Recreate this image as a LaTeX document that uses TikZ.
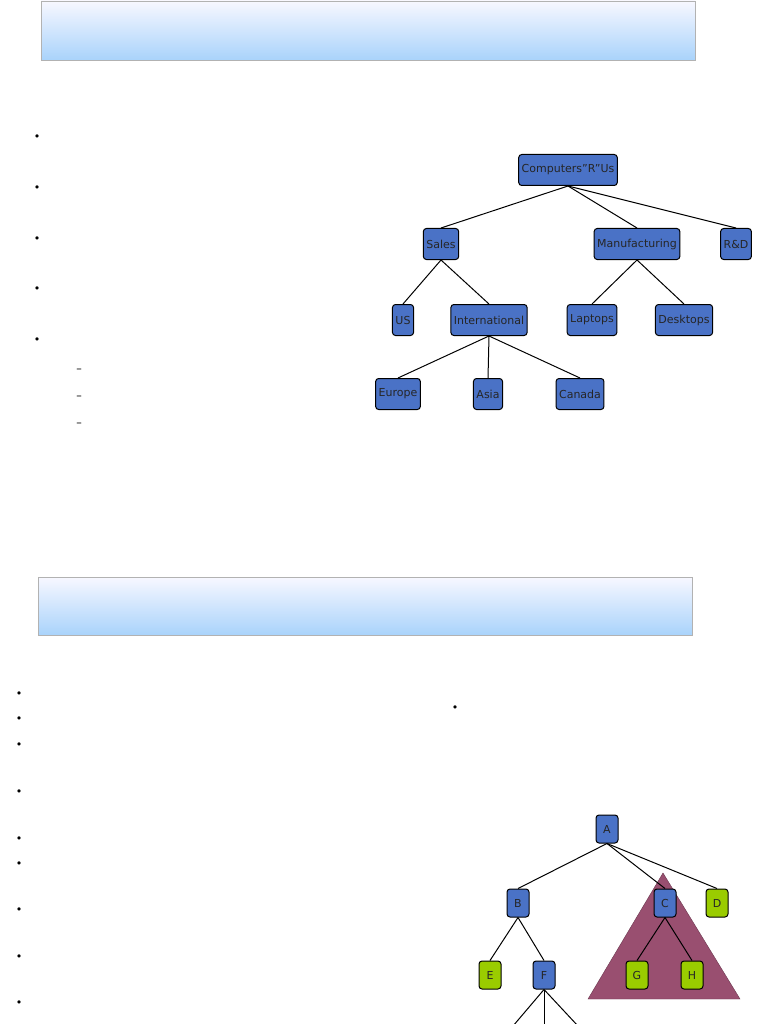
\documentclass[tikz,border=0pt]{standalone}
\usepackage{fontspec}
\setmainfont{DejaVu Sans}
\begin{document}
\begin{tikzpicture}[x=1pt,y=-1pt,
  box/.style={draw=black,line width=1pt,rounded corners=3pt,fill=nodeblue,minimum height=31pt,inner xsep=3pt,font=\fontsize{11}{12}\selectfont,text=black!85},
  sbox/.style={box,minimum height=28pt,minimum width=22pt,inner xsep=1pt},
  gbox/.style={sbox,fill=nodegreen},
  edge/.style={line width=1pt},
  bar/.style={draw=gray!60,top color=white!85!blue!20,bottom color=barblue},
  bul/.style={font=\fontsize{11}{12}\selectfont}]
\definecolor{nodeblue}{HTML}{4A72C6}
\definecolor{nodegreen}{HTML}{9ACC00}
\definecolor{barblue}{HTML}{A9D3FB}
\definecolor{tri}{HTML}{994F70}
\useasboundingbox (0,0) rectangle (768,1024);
\fill[white] (0,0) rectangle (768,1024);
\draw[bar] (41,1) rectangle (695,60);
\draw[bar] (38,577) rectangle (692,635);
\foreach \y in {138,189,240,290,341} \node[bul] at (37,\y) {•};
\foreach \y in {371,398,425} \node[bul] at (79,\y) {–};
\foreach \y in {695,720,746,793,840,865,911,958,1004} \node[bul] at (19,\y) {•};
\node[bul] at (455,709) {•};
% top tree
\node[box] (root) at (568,170) {Computers”R”Us};
\node[box] (sales) at (441,244) {Sales};
\node[box] (man) at (637,244) {Manufacturing};
\node[box] (rd) at (736,244) {R\&D};
\node[box] (us) at (403,320) {US};
\node[box] (int) at (489,320) {International};
\node[box] (lap) at (592,320) {Laptops};
\node[box] (desk) at (684,320) {Desktops};
\node[box] (eu) at (398,394) {Europe};
\node[box] (asia) at (488,394) {Asia};
\node[box] (can) at (580,394) {Canada};
\foreach \a/\b in {root/sales,root/man,root/rd,sales/us,sales/int,man/lap,man/desk,int/eu,int/asia,int/can}
  \draw[edge] (\a.south) -- (\b.north);
% bottom tree
\fill[tri,draw=tri!70!black] (663,873) -- (740,999) -- (588,999) -- cycle;
\node[sbox] (A) at (607,829) {A};
\node[sbox] (B) at (518,903) {B};
\node[sbox] (C) at (665,903) {C};
\node[gbox] (D) at (717,903) {D};
\node[gbox] (E) at (490,975) {E};
\node[sbox] (F) at (544,975) {F};
\node[gbox] (G) at (637,975) {G};
\node[gbox] (H) at (692,975) {H};
\coordinate (f1) at (513,1026);
\coordinate (f2) at (544,1026);
\coordinate (f3) at (578,1026);
\foreach \a/\b in {A/B,A/C,A/D,B/E,B/F,C/G,C/H}
  \draw[edge] (\a.south) -- (\b.north);
\foreach \b in {f1,f2,f3} \draw[edge] (F.south) -- (\b);
\end{tikzpicture}
\end{document}
